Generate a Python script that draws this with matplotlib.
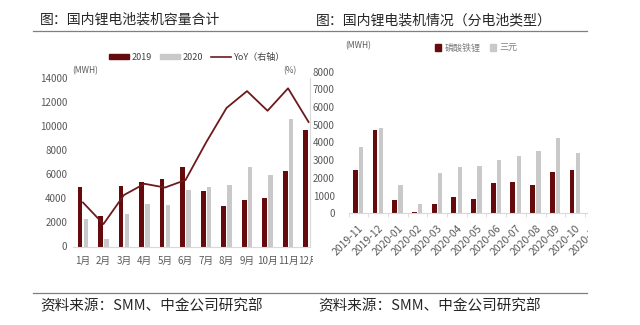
import matplotlib
matplotlib.use("Agg")
import matplotlib.pyplot as plt
from matplotlib.patches import Rectangle, Patch
from matplotlib.lines import Line2D
import numpy as np

plt.rcParams['font.family'] = ['Noto Sans CJK SC', 'DejaVu Sans']

# 国内锂电池装机容量（MWH）
months = ['1月', '2月', '3月', '4月', '5月', '6月', '7月', '8月', '9月', '10月', '11月', '12月']
cap_2019 = [4950, 2500, 5050, 5400, 5600, 6600, 4600, 3400, 3850, 4000, 6250, 9700]
cap_2020 = [2300, 600, 2700, 3550, 3450, 4700, 4950, 5150, 6600, 5900, 10600, np.nan]
yoy = [-53, -76, -45, -33, -37, -29, 11, 48, 66, 45, 69, 33]

# 分电池类型装机（MWH）
periods = ['2019-11', '2019-12', '2020-01', '2020-02', '2020-03', '2020-04', '2020-05',
           '2020-06', '2020-07', '2020-08', '2020-09', '2020-10', '2020-11']
lfp = [2450, 4700, 750, 90, 540, 940, 810, 1690, 1750, 1580, 2350, 2430, np.nan]
ncm = [3750, 4800, 1600, 530, 2260, 2630, 2690, 3010, 3240, 3520, 4240, 3420, np.nan]

DARK = '#650A0D'
GREY = '#C9C9C9'
LINE = '#6E1A1C'
TXT = '#595959'
AXC = '#D9D9D9'

W, H = 640, 325
fig = plt.figure(figsize=(6.4, 3.25), dpi=100)


def px(x0, y0, x1, y1):
    # pixel box (top-left origin) -> figure fraction rect
    return [x0 / W, 1 - y1 / H, (x1 - x0) / W, (y1 - y0) / H]


# ---- left chart ----
ax = fig.add_axes(px(72.7, 78, 310, 246.5))
ax.set_zorder(0)
x = np.arange(len(months))
ax.bar(x - 0.14, cap_2019, width=0.23, color=DARK, zorder=2)
ax.bar(x + 0.15, cap_2020, width=0.23, color=GREY, zorder=2)
ax.set_xlim(-0.5, 11.07)
ax.set_ylim(0, 14000)
ax.set_yticks(range(0, 14001, 2000))
ax.set_xticks(x)
ax.set_xticklabels(months)
ax.tick_params(axis='x', length=0, labelsize=7, colors=TXT, pad=7)
ax.tick_params(axis='y', length=0, labelsize=7, colors=TXT, pad=4)
for s in ['top', 'left', 'right']:
    ax.spines[s].set_visible(False)
ax.spines['bottom'].set_color(AXC)
ax.patch.set_visible(False)

# YoY on the secondary axis; its tick labels fall outside the cut panel
ax2 = ax.twinx()
ax2.set_zorder(0)
ax2.plot(x, yoy, color=LINE, lw=1.3, zorder=3)
ax2.set_ylim(-100, 80)
ax2.set_yticks(range(-100, 81, 20))
ax2.tick_params(axis='y', length=0, labelright=False)
for s in ['top', 'left', 'bottom']:
    ax2.spines[s].set_visible(False)
ax2.spines['right'].set_color(AXC)
ax2.spines['right'].set_linewidth(0.8)

fig.text(72 / W, 1 - 71 / H, '(MWH)', fontsize=6, color=TXT, va='center', ha='left')
fig.text(283 / W, 1 - 71 / H, '(%)', fontsize=6, color=TXT, va='center', ha='left')

handles = [Patch(color=DARK), Patch(color=GREY), Line2D([], [], color=LINE, lw=1.2)]
fig.legend(handles, ['2019', '2020', 'YoY（右轴）'], ncol=3, loc='center',
           bbox_to_anchor=(197 / W, 1 - 57 / H), frameon=False, fontsize=6.5,
           handlelength=2.2, handleheight=0.55, columnspacing=0.9, handletextpad=0.3,
           labelcolor='#404040')

# mask: the left panel is cut off where the right one begins
fig.patches.append(Rectangle((313 / W, 40 / H), 1, 250 / H, transform=fig.transFigure,
                             facecolor='white', edgecolor='none', zorder=1))

# ---- right chart ----
bx = fig.add_axes(px(348.5, 71.7, 604.6, 213.3))
bx.set_zorder(2)
bx.patch.set_visible(False)
xr = np.arange(len(periods))
bx.bar(xr - 0.155, lfp, width=0.25, color=DARK)
bx.bar(xr + 0.145, ncm, width=0.22, color=GREY)
bx.set_xlim(-0.5, 12.5)
bx.set_ylim(0, 8000)
bx.set_yticks(range(0, 8001, 1000))
bx.set_xticks(xr)
bx.set_xticklabels(periods, rotation=45, ha='right', rotation_mode='anchor')
bx.set_xticks(np.arange(-0.5, 13, 1), minor=True)
bx.tick_params(axis='x', which='major', length=0, labelsize=7.5, colors=TXT, pad=7)
bx.tick_params(axis='x', which='minor', length=3, color=AXC, direction='out')
bx.tick_params(axis='y', length=0, labelsize=7, colors=TXT, pad=10)
for s in ['top', 'left', 'right']:
    bx.spines[s].set_visible(False)
bx.spines['bottom'].set_color(AXC)

fig.text(345 / W, 1 - 46 / H, '(MWH)', fontsize=6, color=TXT, va='center', ha='left')
fig.legend([Patch(color=DARK), Patch(color=GREY)], ['磷酸铁锂', '三元'], ncol=2, loc='center',
           bbox_to_anchor=(476 / W, 1 - 48 / H), frameon=False, fontsize=6.5,
           handlelength=0.7, handleheight=0.7, columnspacing=1.0, handletextpad=0.4,
           labelcolor='#7F7F7F')

# mask: right panel ends at the image edge
fig.patches.append(Rectangle((588 / W, 0), 1, 1, transform=fig.transFigure,
                             facecolor='white', edgecolor='none', zorder=3))

# ---- titles, rules, sources ----
fig.text(40 / W, 1 - 20 / H, '图：国内锂电池装机容量合计', fontsize=10, color='#262626',
         va='center', ha='left')
fig.text(316 / W, 1 - 20 / H, '图：国内锂电装机情况（分电池类型）', fontsize=10, color='#262626',
         va='center', ha='left')
fig.add_artist(Line2D([33 / W, 587 / W], [1 - 31 / H, 1 - 31 / H], color='#7F7F7F', lw=0.9,
                      transform=fig.transFigure, zorder=4))
fig.add_artist(Line2D([33 / W, 587 / W], [1 - 293 / H, 1 - 293 / H], color='#7F7F7F', lw=0.9,
                      transform=fig.transFigure, zorder=4))
fig.text(40 / W, 1 - 306 / H, '资料来源：SMM、中金公司研究部', fontsize=10.5, color='#262626',
         va='center', ha='left', zorder=4)
fig.text(318 / W, 1 - 306 / H, '资料来源：SMM、中金公司研究部', fontsize=10.5, color='#262626',
         va='center', ha='left', zorder=4)

fig.savefig('out.png', dpi=100)
